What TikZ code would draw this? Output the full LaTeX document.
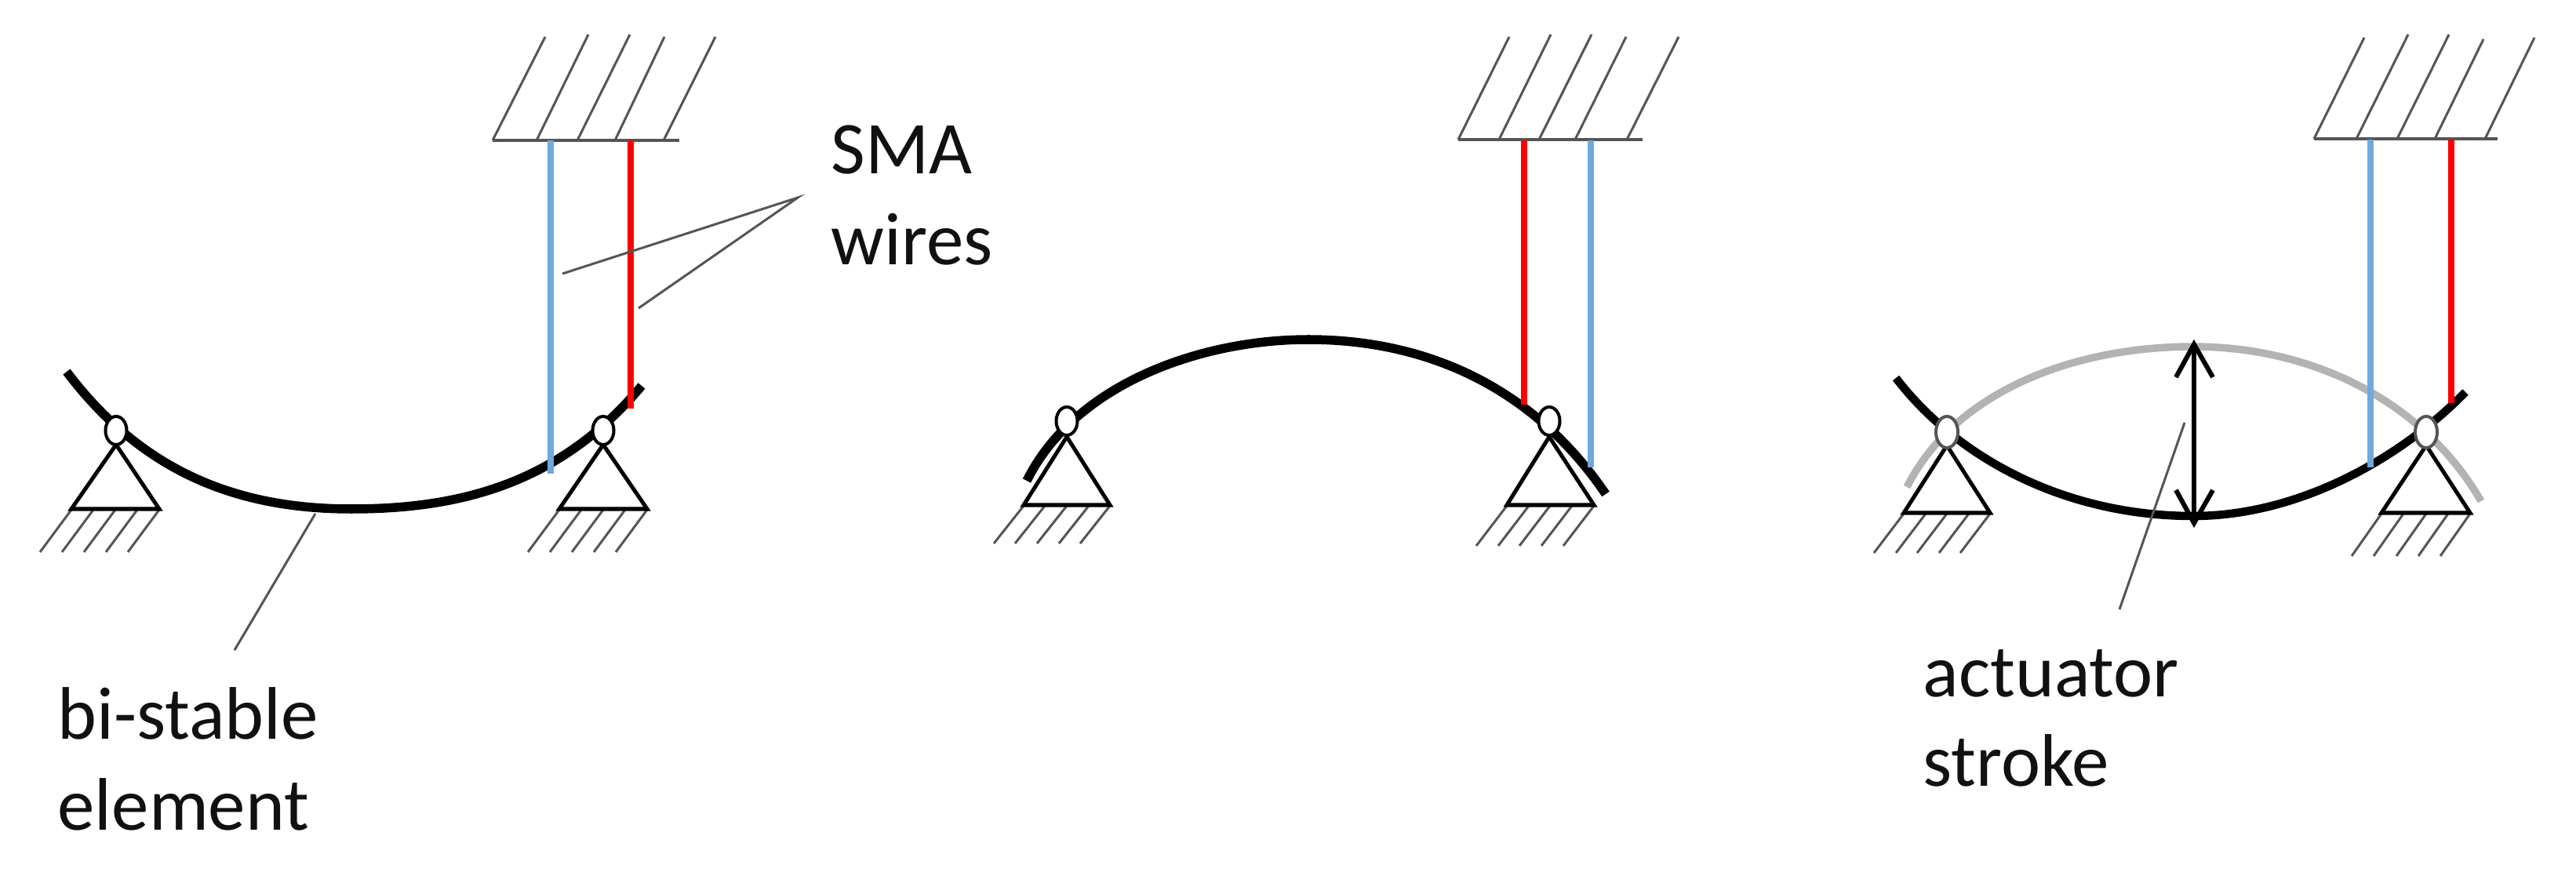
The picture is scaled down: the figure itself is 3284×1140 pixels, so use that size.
\documentclass[tikz,border=0pt]{standalone}
\usepackage{fontspec}
\setmainfont{Carlito}
\usetikzlibrary{shapes.geometric}
\definecolor{wireblue}{HTML}{6FA8DC}
\definecolor{wirered}{HTML}{FF0000}
\definecolor{hatchgray}{HTML}{555555}
\definecolor{ghostgray}{HTML}{B3B3B3}
\definecolor{textblack}{HTML}{111111}
\tikzset{
  x=0.01cm,y=-0.01cm,
  thinhatch/.style={draw=hatchgray,line width=3*0.2845pt},
  wallline/.style={draw=hatchgray,line width=3.5*0.2845pt},
  leaderline/.style={draw=hatchgray,line width=3*0.2845pt},
  beam/.style={draw=black,line width=11.5*0.2845pt,line cap=butt},
  ghostbeam/.style={draw=ghostgray,line width=9.5*0.2845pt,line cap=butt},
  tri/.style={draw=black,line width=5*0.2845pt,line join=miter,fill=none},
  pin/.style={draw=black,line width=4*0.2845pt,fill=white,ellipse,inner sep=0pt,minimum width=27*0.2845pt,minimum height=36*0.2845pt},
  softpin/.style={pin,draw=hatchgray,minimum width=28*0.2845pt,minimum height=40*0.2845pt},
  bluewire/.style={draw=wireblue,line width=8.5*0.2845pt},
  redwire/.style={draw=wirered,line width=8.5*0.2845pt},
  lbl/.style={font=\fontsize{27pt}{33pt}\selectfont,text=textblack,align=left,inner sep=0pt,anchor=base west},
  strokearrow/.style={draw=black,line width=6*0.2845pt},
}
\begin{document}
\begin{tikzpicture}
\useasboundingbox (0,0) rectangle (3284,1140);
\fill[white] (0,0) rectangle (3284,1140);

% ---------- Panel 1 ----------
\foreach \a/\b/\c/\d in {628/179/695/47,684/179/750/44,736/179/803/44,784/179/847/47,846/179/912/47}
  \draw[thinhatch] (\a,\b) -- (\c,\d);
\coordinate (w1l) at (628,179); \coordinate (w1r) at (866,179);
\draw[wallline] (w1l) -- (w1r);
\foreach \a in {91,119,147,175,203,713,741,769,797,825}
  \draw[thinhatch] (\a,650) -- (\a-40,704);
\draw[tri] (148,567) -- (91,649) -- (203,649) -- cycle;
\draw[tri] (769,567) -- (713,649) -- (825,649) -- cycle;
\draw[beam] (85,474) .. controls (180,600) and (300,649) .. (448,649) .. controls (590,649) and (715,615) .. (818,492);
\coordinate (b1t) at (702,179); \coordinate (b1b) at (702,604);
\coordinate (r1t) at (804,179); \coordinate (r1b) at (804,521);
\draw[bluewire] (b1t) -- (b1b);
\draw[redwire] (r1t) -- (r1b);
\node[pin] (p1a) at (148,549) {};
\node[pin] (p1b) at (769,549) {};

\node[lbl] (sma) at (1059,222) {SMA};
\node[lbl] (wires) at (1059,338) {wires};
\coordinate (smaapex) at (1017,252);
\coordinate (sma1) at (717,349);
\coordinate (sma2) at (814,393);
\draw[leaderline] (sma1) -- (smaapex) -- (sma2);
\node[lbl] (bi) at (73,942) {bi-stable};
\node[lbl] (el) at (73,1058) {element};
\coordinate (bi1) at (402,655); \coordinate (bi2) at (299,829);
\draw[leaderline] (bi1) -- (bi2);

% ---------- Panel 2 ----------
\foreach \a/\b/\c/\d in {1859/178/1924/47,1911/178/1977/44,1962/178/2029/44,2008/178/2073/47,2074/178/2140/47}
  \draw[thinhatch] (\a,\b) -- (\c,\d);
\coordinate (w2l) at (1859,178); \coordinate (w2r) at (2094,178);
\draw[wallline] (w2l) -- (w2r);
\foreach \a in {1305,1332,1360,1388,1415}
  \draw[thinhatch] (\a,645) -- (\a-38,693);
\foreach \a in {1921,1949,1976,2004,2032}
  \draw[thinhatch] (\a,645) -- (\a-39,696);
\draw[tri] (1360,557) -- (1305,644) -- (1415,644) -- cycle;
\draw[tri] (1975,557) -- (1921,644) -- (2032,644) -- cycle;
\draw[draw=white,line width=17*0.2845pt] (1985,551) -- (2047,630);
\draw[beam] (1309,613) .. controls (1370,490) and (1530,433) .. (1668,433) .. controls (1800,433) and (1945,480) .. (2047,630);
\coordinate (r2t) at (1943,179); \coordinate (r2b) at (1943,516);
\coordinate (b2t) at (2028,179); \coordinate (b2b) at (2028,596);
\draw[redwire] (r2t) -- (r2b);
\draw[bluewire] (b2t) -- (b2b);
\node[pin] (p2a) at (1360,537) {};
\node[pin] (p2b) at (1975,537) {};

% ---------- Panel 3 ----------
\foreach \a/\c/\d in {2950/3014/48,3004/3070/44,3056/3122/44,3104/3166/50,3168/3231/48}
  \draw[thinhatch] (\a,177) -- (\c,\d);
\coordinate (w3l) at (2950,177); \coordinate (w3r) at (3184,177);
\draw[wallline] (w3l) -- (w3r);
\foreach \a in {2427,2455,2482,2510,2537}
  \draw[thinhatch] (\a,655) -- (\a-38,705);
\foreach \a in {3036,3064,3093,3121,3149}
  \draw[thinhatch] (\a,655) -- (\a-38,709);
\draw[ghostbeam] (2431,621) .. controls (2495,495) and (2650,442) .. (2796,442) .. controls (2940,442) and (3085,505) .. (3163,639);
\draw[tri] (2482,568) -- (2427,654) -- (2537,654) -- cycle;
\draw[tri] (3093,568) -- (3036,654) -- (3149,654) -- cycle;
\coordinate (top) at (2797,439); \coordinate (bot) at (2797,667);
\draw[strokearrow] (top) -- (bot);
\draw[strokearrow] (2774,481) -- (top) -- (2821,481);
\draw[strokearrow] (2774,625) -- (bot) -- (2821,625);
\draw[beam,line width=10.5*0.2845pt] (2417,482) .. controls (2500,590) and (2640,658) .. (2796,658) .. controls (2930,658) and (3060,585) .. (3143,500);
\coordinate (b3t) at (3022,178); \coordinate (b3b) at (3022,596);
\coordinate (r3t) at (3125,178); \coordinate (r3b) at (3125,514);
\draw[bluewire] (b3t) -- (b3b);
\draw[redwire] (r3t) -- (r3b);
\node[softpin] (p3a) at (2482,551) {};
\node[softpin] (p3b) at (3093,551) {};
\node[lbl] (ac) at (2451,888) {actuator};
\node[lbl] (st) at (2451,1002) {stroke};
\coordinate (ac1) at (2785,539); \coordinate (ac2) at (2702,777);
\draw[leaderline] (ac1) -- (ac2);
\end{tikzpicture}
\end{document}
